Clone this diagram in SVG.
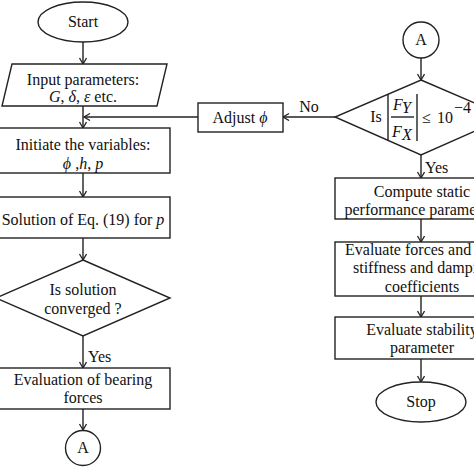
<svg xmlns="http://www.w3.org/2000/svg" width="474" height="474" viewBox="0 0 474 474">
<style>
.s{fill:#fff;stroke:#222;stroke-width:1.4}
.c{fill:none;stroke:#222;stroke-width:1.4}
text{font-family:"Liberation Serif","Times New Roman",serif;font-size:16px;fill:#111}
.m{text-anchor:middle}
.i{font-style:italic}
</style>
<defs>
<marker id="ah" markerUnits="userSpaceOnUse" markerWidth="10" markerHeight="10" refX="7" refY="4" orient="auto">
<path d="M1,0.5 L7,4 L1,7.5" fill="none" stroke="#222" stroke-width="1.3"/>
</marker>
</defs>
<rect width="474" height="474" fill="#fff"/>
<g id="connectors">
<line class="c" x1="83" y1="42" x2="83" y2="64" marker-end="url(#ah)"/>
<line class="c" x1="83" y1="106" x2="83" y2="128" marker-end="url(#ah)"/>
<line class="c" x1="198" y1="117" x2="84" y2="117" marker-end="url(#ah)"/>
<line class="c" x1="83" y1="173" x2="83" y2="197" marker-end="url(#ah)"/>
<line class="c" x1="83" y1="238" x2="83" y2="260" marker-end="url(#ah)"/>
<line class="c" x1="83" y1="336" x2="83" y2="368" marker-end="url(#ah)"/>
<line class="c" x1="83" y1="409" x2="83" y2="430" marker-end="url(#ah)"/>
<line class="c" x1="421" y1="58" x2="421" y2="80" marker-end="url(#ah)"/>
<line class="c" x1="335" y1="117" x2="283" y2="117" marker-end="url(#ah)"/>
<line class="c" x1="421" y1="155" x2="421" y2="178" marker-end="url(#ah)"/>
<line class="c" x1="421" y1="219" x2="421" y2="242" marker-end="url(#ah)"/>
<line class="c" x1="421" y1="296" x2="421" y2="317" marker-end="url(#ah)"/>
<line class="c" x1="421" y1="359" x2="421" y2="382" marker-end="url(#ah)"/>
<text x="88" y="362">Yes</text>
<text x="309" y="112" class="m">No</text>
<text x="425" y="173">Yes</text>
</g>
<g id="start">
<ellipse class="s" cx="83" cy="22" rx="45" ry="20"/>
<text x="83" y="27" class="m">Start</text>
</g>
<g id="input">
<polygon class="s" points="12,64 167,64 157,106 2,106"/>
<text x="83" y="85" class="m">Input parameters:</text>
<text x="83" y="102" class="m"><tspan class="i">G</tspan>, <tspan class="i">δ</tspan>, <tspan class="i">ε</tspan> etc.</text>
</g>
<g id="initiate">
<rect class="s" x="-2" y="128" width="172" height="45"/>
<text x="83" y="150" class="m">Initiate the variables:</text>
<text x="83" y="169" class="m"><tspan class="i">ϕ</tspan> ,<tspan class="i">h</tspan>, <tspan class="i">p</tspan></text>
</g>
<g id="solution">
<rect class="s" x="-2" y="197" width="172" height="41"/>
<text x="83" y="225" class="m">Solution of Eq. (19) for <tspan class="i">p</tspan></text>
</g>
<g id="converged">
<polygon class="s" points="83,260 170,298 83,336 -4,298"/>
<text x="83" y="295" class="m">Is solution</text>
<text x="83" y="314" class="m">converged ?</text>
</g>
<g id="evaluation">
<rect class="s" x="-2" y="368" width="172" height="41"/>
<text x="83" y="385" class="m">Evaluation of bearing</text>
<text x="83" y="403" class="m">forces</text>
</g>
<g id="connA1">
<circle class="s" cx="83" cy="448" r="17.5"/>
<text x="83" y="453" class="m">A</text>
</g>
<g id="connA2">
<circle class="s" cx="421" cy="40" r="18"/>
<text x="421" y="45" class="m">A</text>
</g>
<g id="check">
<polygon class="s" points="421,80 507,117 421,155 335,117"/>
<text x="376" y="122" class="m">Is</text>
<line class="c" x1="388" y1="94" x2="388" y2="141"/>
<line class="c" x1="417" y1="94" x2="417" y2="141"/>
<line class="c" x1="391" y1="117" x2="414" y2="117" stroke-width="1"/>
<text x="393" y="110" class="i">F</text>
<text x="402" y="113" class="i" font-size="9">Y</text>
<text x="392" y="137" class="i">F</text>
<text x="402" y="140" class="i" font-size="9">X</text>
<text x="422" y="123">≤</text>
<text x="437" y="123">10</text>
<text x="454" y="113" font-size="9">−4</text>
</g>
<g id="adjust">
<rect class="s" x="198" y="103" width="85" height="29"/>
<text x="240" y="123" class="m">Adjust <tspan class="i">ϕ</tspan></text>
</g>
<g id="compute">
<rect class="s" x="335" y="178" width="172" height="41"/>
<text x="422" y="197" class="m">Compute static</text>
<text x="422" y="215" class="m">performance parameters</text>
</g>
<g id="forces">
<rect class="s" x="335" y="242" width="172" height="54"/>
<text x="345" y="255">Evaluate forces and</text>
<text x="353" y="273">stiffness and damping</text>
<text x="422" y="292" class="m">coefficients</text>
</g>
<g id="stability">
<rect class="s" x="335" y="317" width="172" height="42"/>
<text x="422" y="335" class="m">Evaluate stability</text>
<text x="422" y="353" class="m">parameter</text>
</g>
<g id="stop">
<ellipse class="s" cx="421" cy="402" rx="45" ry="20"/>
<text x="421" y="407" class="m">Stop</text>
</g>
</svg>
